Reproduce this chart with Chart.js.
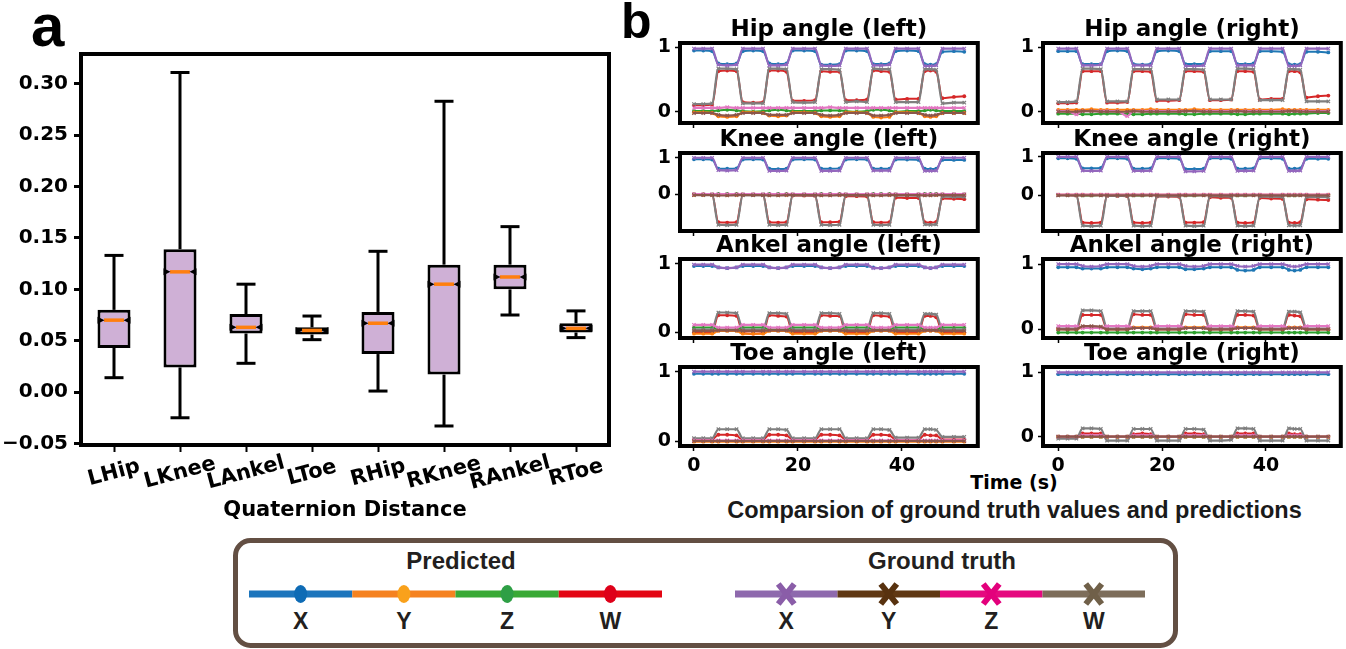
<!DOCTYPE html>
<html>
<head>
<meta charset="utf-8">
<script src="https://cdn.jsdelivr.net/npm/chart.js@4.4.1/dist/chart.umd.min.js"></script>
<style>
  html, body { margin: 0; padding: 0; background: #fff; overflow: hidden; }
  #fig { position: relative; width: 1346px; height: 649px; }
  #fig canvas { position: absolute; }
  #overlay { position: absolute; left: 0; top: 0; }
  .leg { font-family: "Liberation Sans", Arial, sans-serif; font-weight: bold; fill: #231f20; }
</style>
</head>
<body>
<div id="fig">
  <svg id="overlay" width="1346" height="649" viewBox="0 0 1346 649">
    <text x="31" y="46" font-family="Liberation Sans, Arial, sans-serif" font-weight="bold" font-size="60">a</text>
    <text x="621" y="38" font-family="Liberation Sans, Arial, sans-serif" font-weight="bold" font-size="50">b</text>
    <text x="1014" y="489" text-anchor="middle" font-family="DejaVu Sans" font-weight="bold" font-size="19">Time (s)</text>
    <text x="1014.5" y="518" text-anchor="middle" font-family="Liberation Sans, Arial, sans-serif" font-weight="bold" font-size="23.5" fill="#1a1a1a">Comparsion of ground truth values and predictions</text>
    <rect x="235.5" y="540.5" width="940" height="105" rx="15" fill="#fff" stroke="#634f43" stroke-width="5"/>
  </svg>
  <canvas id="boxChart" width="621" height="506" style="left:0px;top:24px;width:621px;height:506px"></canvas>
</div>
<script>
// ---- panel a : quaternion distance per joint ----
const joints = ['LHip', 'LKnee', 'LAnkel', 'LToe', 'RHip', 'RKnee', 'RAnkel', 'RToe'];
const whiskerHigh = [0.133, 0.311, 0.105, 0.074, 0.137, 0.283, 0.161, 0.079];
const q3 = [0.080, 0.139, 0.076, 0.063, 0.078, 0.124, 0.124, 0.067];
const median = [0.070, 0.117, 0.063, 0.060, 0.067, 0.105, 0.112, 0.062];
const q1 = [0.043, 0.024, 0.057, 0.056, 0.037, 0.017, 0.100, 0.058];
const whiskerLow = [0.014, -0.025, 0.028, 0.051, 0.001, -0.033, 0.075, 0.053];
const distTicks = [-0.05, 0, 0.05, 0.10, 0.15, 0.20, 0.25, 0.30];

// ---- panel b : time series, sampled at these times (s) ----
const time = [0, 1.8, 3.5, 4.7, 6.4, 8.2, 9.4, 11.4, 13.3, 14.5, 16.2, 17.8, 19.0, 21.2, 23.3, 24.5, 26.2,
  28.0, 29.2, 31.3, 33.3, 34.5, 36.0, 37.6, 38.8, 41.0, 43.2, 44.4, 45.5, 46.6, 47.8, 50.0, 52.0];
const timeTicks = [0, 20, 40];
const quatParts = ['X', 'Y', 'Z', 'W'];

const hipL_pX = [.95,.95,.94,.75,.74,.75,.94,.95,.94,.75,.74,.75,.95,.95,.94,.73,.73,.74,.95,.95,.94,.74,.74,.75,.94,.95,.94,.74,.73,.74,.93,.94,.93];
const hipL_pY = [-.01,-.01,-.02,-.07,-.08,-.07,-.01,-.01,-.02,-.06,-.07,-.06,-.01,-.01,-.02,-.07,-.08,-.07,-.01,-.01,-.02,-.08,-.09,-.08,-.01,-.01,-.02,-.07,-.08,-.07,-.02,-.02,-.02];
const hipL_pZ = [.01,.01,.01,.02,.03,.02,.01,.00,.01,.02,.03,.02,.01,.01,.01,.02,.02,.02,.01,.00,.01,.03,.03,.02,.00,.01,.01,.02,.03,.02,.01,.01,.01];
const hipL_pW = [.10,.10,.11,.63,.64,.63,.15,.14,.15,.64,.64,.62,.17,.17,.18,.63,.62,.62,.18,.18,.19,.64,.63,.62,.19,.20,.20,.63,.64,.62,.21,.23,.24];
const hipL_gX = [.98,.98,.98,.73,.72,.73,.98,.98,.98,.72,.72,.73,.98,.98,.98,.72,.71,.72,.98,.98,.98,.72,.72,.73,.98,.98,.98,.71,.71,.72,.98,.98,.98];
const hipL_gY = [-.02,-.02,-.02,-.05,-.06,-.05,-.02,-.02,-.02,-.05,-.05,-.05,-.02,-.02,-.02,-.05,-.06,-.05,-.02,-.02,-.02,-.06,-.06,-.05,-.02,-.02,-.02,-.05,-.06,-.05,-.02,-.02,-.02];
const hipL_gZ = [.06,.06,.06,.06,.07,.06,.06,.06,.06,.06,.06,.06,.06,.06,.06,.06,.07,.06,.06,.06,.06,.06,.06,.06,.06,.06,.06,.06,.06,.06,.06,.06,.06];
const hipL_gW = [.12,.12,.13,.67,.67,.66,.13,.13,.13,.67,.67,.66,.15,.14,.15,.66,.66,.65,.15,.16,.15,.67,.66,.66,.15,.15,.15,.66,.66,.65,.13,.14,.14];

const hipR_pX = [.94,.94,.94,.74,.74,.74,.94,.95,.94,.74,.73,.74,.94,.95,.94,.74,.74,.74,.94,.94,.94,.74,.74,.75,.94,.94,.93,.74,.73,.74,.93,.93,.92];
const hipR_pY = [.03,.03,.03,.03,.04,.03,.03,.03,.03,.03,.03,.04,.03,.03,.03,.03,.04,.03,.03,.03,.03,.03,.03,.03,.03,.03,.04,.03,.03,.03,.03,.03,.03];
const hipR_pZ = [-.03,-.03,-.03,-.04,-.04,-.03,-.03,-.03,-.03,-.04,-.04,-.03,-.03,-.03,-.03,-.04,-.04,-.03,-.03,-.03,-.03,-.04,-.04,-.03,-.03,-.03,-.03,-.04,-.03,-.03,-.03,-.02,-.02];
const hipR_pW = [.13,.13,.14,.63,.63,.63,.14,.14,.15,.63,.63,.62,.17,.17,.18,.63,.63,.62,.18,.18,.19,.63,.63,.62,.19,.20,.20,.63,.63,.61,.22,.24,.25];
const hipR_gX = [.98,.98,.98,.72,.72,.73,.98,.98,.98,.72,.72,.72,.98,.98,.98,.71,.71,.72,.98,.98,.98,.72,.72,.72,.98,.98,.98,.71,.71,.72,.98,.98,.98];
const hipR_gY = [.00,.00,.00,.01,.01,.00,.00,.00,.00,.01,.00,.00,.00,.00,.00,.01,.01,.00,.00,.00,.00,.01,.00,.00,.00,.00,.00,.01,.01,.00,.00,.00,.00];
const hipR_gZ = [.01,.01,-.04,.01,.01,.01,.01,.01,-.07,.01,.01,.01,.01,.01,.01,.01,.01,.01,.01,.01,.01,.01,.01,.01,.01,.01,.01,.01,.01,.01,.01,.01,.01];
const hipR_gW = [.15,.15,.16,.67,.67,.66,.16,.16,.16,.66,.66,.66,.19,.19,.19,.66,.66,.65,.19,.19,.19,.67,.67,.66,.18,.18,.18,.66,.66,.65,.16,.16,.16];

const kneeL_pX = [.96,.96,.95,.70,.70,.71,.95,.96,.95,.70,.69,.70,.95,.96,.95,.70,.70,.71,.95,.96,.95,.70,.70,.70,.95,.95,.94,.70,.69,.70,.94,.94,.94];
const kneeL_pY = [-.01,-.01,-.01,-.02,-.02,-.01,-.01,-.01,-.01,-.02,-.02,-.01,-.01,-.01,-.01,-.02,-.02,-.01,-.01,-.01,-.01,-.02,-.02,-.01,-.01,-.01,-.01,-.02,-.02,-.01,-.01,-.01,-.01];
const kneeL_pZ = [.00,.00,.00,.01,.01,.01,.00,.00,.00,.01,.01,.01,.00,.00,.00,.01,.01,.01,.00,.00,.00,.01,.01,.01,.00,.00,.00,.01,.01,.01,.00,.00,.00];
const kneeL_pW = [.00,.00,-.01,-.76,-.77,-.76,-.01,-.01,-.02,-.76,-.77,-.76,-.03,-.03,-.04,-.76,-.76,-.75,-.05,-.05,-.06,-.76,-.77,-.76,-.09,-.10,-.10,-.76,-.77,-.75,-.11,-.12,-.13];
const kneeL_gX = [1.0,1.0,1.0,.66,.65,.66,1.0,1.0,1.0,.64,.64,.65,1.0,1.0,1.0,.64,.64,.65,1.0,1.0,1.0,.65,.65,.65,1.0,1.0,1.0,.64,.64,.65,1.0,1.0,1.0];
const kneeL_gY = [-.02,-.02,-.02,-.03,-.03,-.02,-.02,-.02,-.02,-.03,-.03,-.02,-.02,-.02,-.02,-.03,-.03,-.02,-.02,-.02,-.02,-.03,-.03,-.02,-.02,-.02,-.02,-.03,-.03,-.02,-.02,-.02,-.02];
const kneeL_gZ = [.01,.01,.01,.01,.01,.01,.01,.01,.01,.01,.01,.01,.01,.01,.01,.01,.01,.01,.01,.01,.01,.01,.01,.01,.01,.01,.01,.01,.01,.01,.01,.01,.01];
const kneeL_gW = [-.01,-.01,-.01,-.83,-.84,-.83,-.02,-.02,-.02,-.83,-.84,-.83,-.02,-.02,-.03,-.83,-.84,-.83,-.02,-.02,-.02,-.83,-.84,-.83,-.03,-.03,-.04,-.82,-.83,-.82,-.06,-.07,-.07];

const kneeR_pX = [.96,.96,.95,.70,.70,.71,.96,.96,.95,.69,.69,.70,.96,.96,.95,.68,.68,.69,.96,.96,.95,.69,.69,.70,.96,.96,.95,.69,.69,.70,.95,.95,.95];
const kneeR_pY = [.01,.01,.01,.01,.01,.01,.01,.01,.01,.01,.01,.01,.01,.01,.01,.01,.01,.01,.01,.01,.01,.01,.01,.01,.01,.01,.01,.01,.01,.01,.01,.01,.01];
const kneeR_pZ = [.00,.00,.00,-.01,-.01,.00,.00,.00,.00,-.01,-.01,.00,.00,.00,.00,-.01,-.01,.00,.00,.00,.00,-.01,-.01,.00,.00,.00,.00,-.01,-.01,.00,.00,.00,.00];
const kneeR_pW = [.00,.00,-.01,-.72,-.73,-.72,-.02,-.02,-.03,-.72,-.73,-.72,-.04,-.04,-.05,-.72,-.72,-.71,-.06,-.07,-.07,-.72,-.73,-.72,-.08,-.09,-.10,-.72,-.73,-.71,-.11,-.12,-.13];
const kneeR_gX = [1.0,1.0,1.0,.64,.63,.64,1.0,1.0,1.0,.63,.63,.64,1.0,1.0,1.0,.62,.62,.63,1.0,1.0,1.0,.63,.63,.64,1.0,1.0,1.0,.63,.63,.64,1.0,1.0,1.0];
const kneeR_gY = [-.01,-.01,-.01,-.01,-.01,-.01,-.01,-.01,-.01,-.01,-.01,-.01,-.01,-.01,-.01,-.01,-.01,-.01,-.01,-.01,-.01,-.01,-.01,-.01,-.01,-.01,-.01,-.01,-.01,-.01,-.01,-.01,-.01];
const kneeR_gZ = [.01,.01,.01,.01,.01,.01,.01,.01,.01,.01,.01,.01,.01,.01,.01,.01,.01,.01,.01,.01,.01,.01,.01,.01,.01,.01,.01,.01,.01,.01,.01,.01,.01];
const kneeR_gW = [.00,.00,-.01,-.80,-.81,-.80,-.02,-.02,-.02,-.80,-.81,-.80,-.03,-.03,-.03,-.80,-.81,-.80,-.03,-.03,-.04,-.80,-.81,-.80,-.04,-.04,-.05,-.79,-.80,-.79,-.05,-.05,-.06];

const ankleL_pX = [.97,.97,.97,.95,.94,.95,.97,.97,.97,.95,.94,.95,.97,.97,.97,.95,.94,.95,.97,.97,.97,.95,.94,.95,.97,.97,.97,.95,.94,.95,.97,.97,.97];
const ankleL_pY = [-.02,-.02,-.02,.02,.02,.02,-.02,-.02,-.02,.02,.02,.02,-.02,-.02,-.02,.02,.02,.02,-.02,-.02,-.02,.02,.02,.02,-.02,-.02,-.02,.02,.02,.02,-.02,-.02,-.02];
const ankleL_pZ = [.07,.07,.07,.04,.04,.04,.07,.07,.07,.04,.04,.04,.07,.07,.07,.04,.04,.04,.07,.07,.07,.04,.04,.04,.07,.07,.07,.04,.04,.04,.07,.07,.07];
const ankleL_pW = [.00,-.01,.00,.25,.25,.24,-.01,-.02,-.01,.25,.24,.23,.00,-.01,.00,.25,.24,.24,.00,-.01,.00,.25,.24,.23,.00,-.01,.00,.24,.24,.22,.00,-.01,.00];
const ankleL_gX = [.99,.99,.99,.95,.94,.95,.99,.99,.99,.95,.94,.95,.99,.99,.99,.95,.94,.95,.99,.99,.99,.94,.94,.95,.99,.99,.99,.95,.94,.95,.99,.99,.99];
const ankleL_gY = [.02,.02,.02,.03,.03,.03,.02,.02,.02,.03,.03,.03,.02,.02,.02,.03,.03,.03,.02,.02,.02,.03,.03,.03,.02,.02,.02,.03,.03,.03,.02,.02,.02];
const ankleL_gZ = [.11,.11,.11,.07,.07,.07,.11,.11,.11,.07,.07,.07,.11,.11,.11,.07,.07,.07,.11,.11,.11,.07,.07,.07,.11,.11,.11,.07,.07,.07,.11,.11,.11];
const ankleL_gW = [.04,.04,.04,.29,.29,.28,.04,.04,.04,.28,.28,.27,.04,.04,.04,.28,.28,.27,.04,.04,.04,.28,.28,.27,.04,.04,.04,.27,.27,.26,.04,.04,.04];

const ankleR_pX = [.95,.95,.95,.93,.93,.93,.95,.95,.95,.93,.92,.93,.95,.95,.95,.92,.92,.93,.95,.95,.95,.91,.90,.91,.95,.95,.95,.91,.90,.91,.95,.95,.95];
const ankleR_pY = [.00,.00,.00,.03,.03,.03,.00,.00,.00,.03,.03,.03,.00,.00,.00,.03,.03,.03,.00,.00,.00,.03,.03,.03,.00,.00,.00,.03,.03,.03,.00,.00,.00];
const ankleR_pZ = [-.05,-.05,-.05,-.05,-.05,-.05,-.05,-.05,-.05,-.05,-.05,-.05,-.05,-.05,-.05,-.05,-.05,-.05,-.05,-.05,-.05,-.05,-.05,-.05,-.05,-.05,-.05,-.05,-.05,-.05,-.05,-.05,-.05];
const ankleR_pW = [.01,.00,.00,.22,.22,.22,.00,.00,.00,.23,.22,.22,.00,.00,.00,.23,.22,.22,.00,.00,.00,.22,.22,.21,.00,.00,.00,.22,.21,.20,.00,.00,.00];
const ankleR_gX = [1.0,1.0,1.0,.97,.96,.97,1.0,1.0,1.0,.97,.96,.97,1.0,1.0,1.0,.97,.96,.97,1.0,1.0,1.0,.97,.96,.97,1.0,1.0,1.0,.97,.96,.97,1.0,1.0,1.0];
const ankleR_gY = [.00,.00,.00,.05,.05,.04,.00,.00,.00,.02,.02,.02,.00,.00,.00,.02,.02,.02,.00,.00,.00,.02,.02,.02,.00,.00,.00,.02,.02,.02,.00,.00,.00];
const ankleR_gZ = [.05,.05,.05,.02,.02,.02,.05,.05,.05,.02,.02,.02,.05,.05,.05,.02,.02,.02,.05,.05,.05,.02,.02,.02,.05,.05,.05,.02,.02,.02,.05,.05,.05];
const ankleR_gW = [.01,.01,.01,.29,.29,.28,.01,.01,.01,.28,.28,.28,.01,.01,.01,.28,.28,.27,.01,.01,.01,.28,.28,.27,.01,.01,.01,.27,.27,.26,.01,.01,.01];

const toeL_pX = [.97,.97,.97,.97,.97,.97,.97,.97,.97,.97,.97,.97,.97,.97,.97,.97,.97,.97,.97,.97,.97,.97,.97,.97,.97,.97,.97,.97,.97,.97,.97,.97,.97];
const toeL_pY = [-.01,-.01,-.01,-.01,-.01,-.01,-.01,-.01,-.01,-.01,-.01,-.01,-.01,-.01,-.01,-.01,-.01,-.01,-.01,-.01,-.01,-.01,-.01,-.01,-.01,-.01,-.01,-.01,-.01,-.01,-.01,-.01,-.01];
const toeL_pZ = [.00,.00,.00,.00,.00,.00,.00,.00,.00,.00,.00,.00,.00,.00,.00,.00,.00,.00,.00,.00,.00,.00,.00,.00,.00,.00,.00,.00,.00,.00,.00,.00,.00];
const toeL_pW = [.02,.02,.02,.09,.09,.08,.01,.01,.02,.09,.09,.08,.02,.01,.02,.09,.09,.08,.02,.02,.02,.09,.09,.08,.02,.01,.02,.09,.08,.08,.02,.02,.02];
const toeL_gX = [1.0,1.0,1.0,1.0,1.0,1.0,1.0,1.0,1.0,1.0,1.0,1.0,1.0,1.0,1.0,1.0,1.0,1.0,1.0,1.0,1.0,1.0,1.0,1.0,1.0,1.0,1.0,1.0,1.0,1.0,1.0,1.0,1.0];
const toeL_gY = [.00,.00,.00,.00,.00,.00,.00,.00,.00,.00,.00,.00,.00,.00,.00,.00,.00,.00,.00,.00,.00,.00,.00,.00,.00,.00,.00,.00,.00,.00,.00,.00,.00];
const toeL_gZ = [.01,.01,.01,.01,.01,.01,.01,.01,.01,.01,.01,.01,.01,.01,.01,.01,.01,.01,.01,.01,.01,.01,.01,.01,.01,.01,.01,.01,.01,.01,.01,.01,.01];
const toeL_gW = [.04,.04,.04,.17,.17,.17,.04,.04,.04,.17,.17,.16,.04,.04,.04,.17,.17,.17,.04,.04,.04,.17,.17,.16,.05,.05,.05,.17,.17,.16,.06,.06,.06];

const toeR_pX = [.97,.97,.97,.97,.97,.97,.97,.97,.97,.97,.97,.97,.97,.97,.97,.97,.97,.97,.97,.97,.97,.97,.97,.97,.97,.97,.97,.97,.97,.97,.97,.97,.97];
const toeR_pY = [.00,.00,.00,.00,.00,.00,.00,.00,.00,.00,.00,.00,.00,.00,.00,.00,.00,.00,.00,.00,.00,.00,.00,.00,.00,.00,.00,.00,.00,.00,.00,.00,.00];
const toeR_pZ = [.00,.00,.00,.00,.00,.00,.00,.00,.00,.00,.00,.00,.00,.00,.00,.00,.00,.00,.00,.00,.00,.00,.00,.00,.00,.00,.00,.00,.00,.00,.00,.00,.00];
const toeR_pW = [.00,.00,.00,.05,.05,.05,.00,.00,.00,.04,.05,.04,.00,.00,.00,.05,.05,.04,.00,.00,.00,.05,.05,.05,.00,.00,.00,.05,.04,.04,.00,.00,.00];
const toeR_gX = [1.0,1.0,1.0,1.0,1.0,1.0,1.0,1.0,1.0,1.0,1.0,1.0,1.0,1.0,1.0,1.0,1.0,1.0,1.0,1.0,1.0,1.0,1.0,1.0,1.0,1.0,1.0,1.0,1.0,1.0,1.0,1.0,1.0];
const toeR_gY = [.00,.00,.00,.00,.00,.00,.00,.00,.00,.00,.00,.00,.00,.00,.00,.00,.00,.00,.00,.00,.00,.00,.00,.00,.00,.00,.00,.00,.00,.00,.00,.00,.00];
const toeR_gZ = [.00,.00,.00,.02,.02,.02,.00,.00,.00,.02,.02,.02,.00,.00,.00,.02,.02,.02,.00,.00,.00,.02,.02,.02,.00,.00,.00,.02,.02,.02,.00,.00,.00];
const toeR_gW = [-.03,-.03,-.03,.13,.13,.12,-.06,-.06,-.06,.12,.12,.12,-.06,-.06,-.06,.12,.12,.11,-.06,-.06,-.05,.13,.13,.12,-.06,-.06,-.06,.13,.12,.12,-.06,-.06,-.06];

const predColors = ['#1f77b4', '#ff7f0e', '#2ca02c', '#d62728'];
const truthColors = ['#9467bd', '#8c564b', '#e377c2', '#7f7f7f'];
const legendPredLine = ['#1c75bc', '#f58220', '#39a935', '#e30613'];
const legendPredMark = ['#0e6bb5', '#f9a11b', '#2e9f45', '#de0019'];
const legendTruthLine = ['#8e69ad', '#603813', '#e5097f', '#7d6d5a'];
const legendTruthMark = ['#8a5da8', '#58320f', '#e3007c', '#706049'];

Chart.defaults.font.family = '"DejaVu Sans", sans-serif';
Chart.defaults.font.weight = 'bold';
Chart.defaults.color = '#000';

// black frame round the plot area, plus optional title above it
const frame = {
  id: 'frame',
  afterDraw(chart, args, opts) {
    const { ctx, chartArea: a } = chart;
    ctx.save();
    ctx.lineWidth = 4;
    ctx.strokeStyle = '#000';
    ctx.strokeRect(a.left, a.top, a.right - a.left, a.bottom - a.top);
    if (opts.title) {
      ctx.font = 'bold 23px "DejaVu Sans"';
      ctx.fillStyle = '#000';
      ctx.textAlign = 'center';
      ctx.textBaseline = 'alphabetic';
      ctx.fillText(opts.title, (a.left + a.right) / 2, a.top - 7);
    }
    ctx.restore();
  }
};

// whiskers, caps, median and notch marks for the box plot
const boxParts = {
  id: 'boxParts',
  afterDatasetsDraw(chart) {
    const { ctx, scales: { x, y } } = chart;
    const line = (x1, y1, x2, y2) => { ctx.beginPath(); ctx.moveTo(x1, y1); ctx.lineTo(x2, y2); ctx.stroke(); };
    ctx.save();
    joints.forEach((name, i) => {
      const cx = x.getPixelForValue(i);
      ctx.strokeStyle = '#000';
      ctx.lineWidth = 3;
      line(cx, y.getPixelForValue(q3[i]), cx, y.getPixelForValue(whiskerHigh[i]));
      line(cx, y.getPixelForValue(q1[i]), cx, y.getPixelForValue(whiskerLow[i]));
      line(cx - 9.5, y.getPixelForValue(whiskerHigh[i]), cx + 9.5, y.getPixelForValue(whiskerHigh[i]));
      line(cx - 9.5, y.getPixelForValue(whiskerLow[i]), cx + 9.5, y.getPixelForValue(whiskerLow[i]));
      const ym = y.getPixelForValue(median[i]);
      ctx.strokeStyle = '#ff7f0e';
      ctx.lineWidth = 3.5;
      line(cx - 10, ym, cx + 10, ym);
      ctx.fillStyle = '#000';
      [-1, 1].forEach(s => {
        ctx.beginPath();
        ctx.moveTo(cx + s * 16.5, ym - 3.5);
        ctx.lineTo(cx + s * 9.5, ym);
        ctx.lineTo(cx + s * 16.5, ym + 3.5);
        ctx.closePath();
        ctx.fill();
      });
    });
    ctx.restore();
  },
  afterDraw(chart) {
    const { ctx, chartArea: a, scales: { x } } = chart;
    ctx.save();
    ctx.fillStyle = '#000';
    ctx.textAlign = 'center';
    ctx.textBaseline = 'middle';
    ctx.font = 'bold 21px "DejaVu Sans"';
    joints.forEach((name, i) => {
      ctx.save();
      ctx.translate(x.getPixelForValue(i), a.bottom + 28);
      ctx.rotate(-15 * Math.PI / 180);
      ctx.fillText(name, 0, 0);
      ctx.restore();
    });
    ctx.textBaseline = 'alphabetic';
    ctx.fillText('Quaternion Distance', (a.left + a.right) / 2, a.bottom + 71);
    ctx.restore();
  }
};

new Chart(document.getElementById('boxChart'), {
  type: 'bar',
  data: {
    labels: joints,
    datasets: [{
      data: joints.map((j, i) => [q1[i], q3[i]]),
      backgroundColor: '#cfb0d6',
      borderColor: '#000',
      borderWidth: 3,
      borderSkipped: false,
      barPercentage: 0.5,
      categoryPercentage: 1
    }]
  },
  options: {
    responsive: false,
    animation: false,
    devicePixelRatio: 1,
    layout: { padding: { top: 30, right: 12, left: 0, bottom: 0 } },
    plugins: { legend: { display: false }, tooltip: { enabled: false }, frame: {} },
    scales: {
      x: {
        ticks: { color: 'rgba(0,0,0,0)', maxRotation: 0, autoSkip: false },
        grid: { offset: false, drawOnChartArea: false, drawTicks: true, tickLength: 7, tickWidth: 2, tickColor: '#000' },
        border: { display: false },
        afterFit: s => { s.height = 85; }
      },
      y: {
        min: -0.0515,
        max: 0.329,
        afterBuildTicks: s => { s.ticks = distTicks.map(v => ({ value: v })); },
        ticks: { font: { size: 20, weight: 'bold' }, padding: 6, callback: v => v.toFixed(2).replace('-', '\u2212') },
        grid: { drawOnChartArea: false, drawTicks: true, tickLength: 7, tickWidth: 3, tickColor: '#000' },
        border: { display: false },
        afterFit: s => { s.width = 81; }
      }
    }
  },
  plugins: [frame, boxParts]
});

// ---- the eight small line charts ----
const cols = [
  { L: 680, R: 979, tmin: -2.68, tmax: 54.6 },
  { L: 1043, R: 1342, tmin: -2.93, tmax: 54.4 }
];
const panels = [
  { title: 'Hip angle (left)', col: 0, T: 43, B: 123, ymin: -0.175, ymax: 1.067, pred: [hipL_pX, hipL_pY, hipL_pZ, hipL_pW], truth: [hipL_gX, hipL_gY, hipL_gZ, hipL_gW] },
  { title: 'Hip angle (right)', col: 1, T: 43, B: 123, ymin: -0.175, ymax: 1.067, pred: [hipR_pX, hipR_pY, hipR_pZ, hipR_pW], truth: [hipR_gX, hipR_gY, hipR_gZ, hipR_gW] },
  { title: 'Knee angle (left)', col: 0, T: 153, B: 231, ymin: -1.0, ymax: 1.13, pred: [kneeL_pX, kneeL_pY, kneeL_pZ, kneeL_pW], truth: [kneeL_gX, kneeL_gY, kneeL_gZ, kneeL_gW] },
  { title: 'Knee angle (right)', col: 1, T: 153, B: 231, ymin: -0.94, ymax: 1.10, pred: [kneeR_pX, kneeR_pY, kneeR_pZ, kneeR_pW], truth: [kneeR_gX, kneeR_gY, kneeR_gZ, kneeR_gW] },
  { title: 'Ankel angle (left)', col: 0, T: 259, B: 338, ymin: -0.083, ymax: 1.073, pred: [ankleL_pX, ankleL_pY, ankleL_pZ, ankleL_pW], truth: [ankleL_gX, ankleL_gY, ankleL_gZ, ankleL_gW] },
  { title: 'Ankel angle (right)', col: 1, T: 259, B: 338, ymin: -0.133, ymax: 1.077, pred: [ankleR_pX, ankleR_pY, ankleR_pZ, ankleR_pW], truth: [ankleR_gX, ankleR_gY, ankleR_gZ, ankleR_gW] },
  { title: 'Toe angle (left)', col: 0, T: 367, B: 446, ymin: -0.072, ymax: 1.068, xLabels: true, pred: [toeL_pX, toeL_pY, toeL_pZ, toeL_pW], truth: [toeL_gX, toeL_gY, toeL_gZ, toeL_gW] },
  { title: 'Toe angle (right)', col: 1, T: 367, B: 446, ymin: -0.144, ymax: 1.082, xLabels: true, pred: [toeR_pX, toeR_pY, toeR_pZ, toeR_pW], truth: [toeR_gX, toeR_gY, toeR_gZ, toeR_gW] }
];

const fig = document.getElementById('fig');
panels.forEach(p => {
  const c = cols[p.col];
  const w = 45 + (c.R - c.L) + 4;
  const h = 30 + (p.B - p.T) + 34;
  const canvas = document.createElement('canvas');
  canvas.width = w;
  canvas.height = h;
  canvas.style.cssText = `left:${c.L - 45}px;top:${p.T - 30}px;width:${w}px;height:${h}px`;
  fig.appendChild(canvas);

  const datasets = [];
  p.truth.forEach((arr, k) => datasets.push({
    data: time.map((t, i) => ({ x: t, y: arr[i] })),
    borderColor: truthColors[k],
    borderWidth: 2.2,
    pointStyle: 'crossRot',
    pointRadius: 2.4,
    pointBorderWidth: 1.2,
    pointBorderColor: truthColors[k],
    pointBackgroundColor: truthColors[k],
    cubicInterpolationMode: 'monotone',
    order: 0
  }));
  p.pred.forEach((arr, k) => datasets.push({
    data: time.map((t, i) => ({ x: t, y: arr[i] })),
    borderColor: predColors[k],
    borderWidth: 2,
    pointStyle: 'circle',
    pointRadius: 1.9,
    pointBorderWidth: 0,
    pointBackgroundColor: predColors[k],
    cubicInterpolationMode: 'monotone',
    order: 1
  }));

  new Chart(canvas, {
    type: 'line',
    data: { datasets },
    options: {
      responsive: false,
      animation: false,
      devicePixelRatio: 1,
      layout: { padding: { top: 30, right: 4, left: 0, bottom: 0 } },
      plugins: { legend: { display: false }, tooltip: { enabled: false }, frame: { title: p.title } },
      scales: {
        x: {
          type: 'linear',
          min: c.tmin,
          max: c.tmax,
          afterBuildTicks: s => { s.ticks = timeTicks.map(v => ({ value: v })); },
          ticks: { color: p.xLabels ? '#000' : 'rgba(0,0,0,0)', font: { size: 19, weight: 'bold' }, padding: 4, maxRotation: 0, autoSkip: false },
          grid: { drawOnChartArea: false, drawTicks: true, tickLength: 5, tickWidth: 1.5, tickColor: '#000' },
          border: { display: false },
          afterFit: s => { s.height = 34; }
        },
        y: {
          min: p.ymin,
          max: p.ymax,
          afterBuildTicks: s => { s.ticks = [0, 1].map(v => ({ value: v })); },
          ticks: { font: { size: 19, weight: 'bold' }, padding: 4 },
          grid: { drawOnChartArea: false, drawTicks: true, tickLength: 5, tickWidth: 1.5, tickColor: '#000' },
          border: { display: false },
          afterFit: s => { s.width = 45; }
        }
      }
    },
    plugins: [frame]
  });
});

// ---- legend box at the bottom ----
const svg = document.getElementById('overlay');
function add(tag, attrs, text) {
  const el = document.createElementNS('http://www.w3.org/2000/svg', tag);
  for (const k in attrs) el.setAttribute(k, attrs[k]);
  if (text) el.textContent = text;
  svg.appendChild(el);
  return el;
}
const legendGroups = [
  { head: 'Predicted', hx: 461, x0: 249, seg: 103.25, lines: legendPredLine, marks: legendPredMark, kind: 'dot' },
  { head: 'Ground truth', hx: 942, x0: 735, seg: 102.5, lines: legendTruthLine, marks: legendTruthMark, kind: 'cross' }
];
legendGroups.forEach(g => {
  add('text', { x: g.hx, y: 569, 'text-anchor': 'middle', class: 'leg', 'font-size': 24 }, g.head);
  quatParts.forEach((q, k) => {
    const a = g.x0 + k * g.seg;
    const cx = a + g.seg / 2;
    add('line', { x1: a, x2: a + g.seg, y1: 594, y2: 594, stroke: g.lines[k], 'stroke-width': 7 });
    if (g.kind === 'dot') {
      add('ellipse', { cx: cx, cy: 594, rx: 6.5, ry: 9, fill: g.marks[k] });
    } else {
      add('path', { d: `M${cx - 8},584L${cx + 8},604M${cx + 8},584L${cx - 8},604`, stroke: g.marks[k], 'stroke-width': 6, fill: 'none' });
    }
    add('text', { x: cx, y: 629, 'text-anchor': 'middle', class: 'leg', 'font-size': 23 }, q);
  });
});
</script>
</body>
</html>
